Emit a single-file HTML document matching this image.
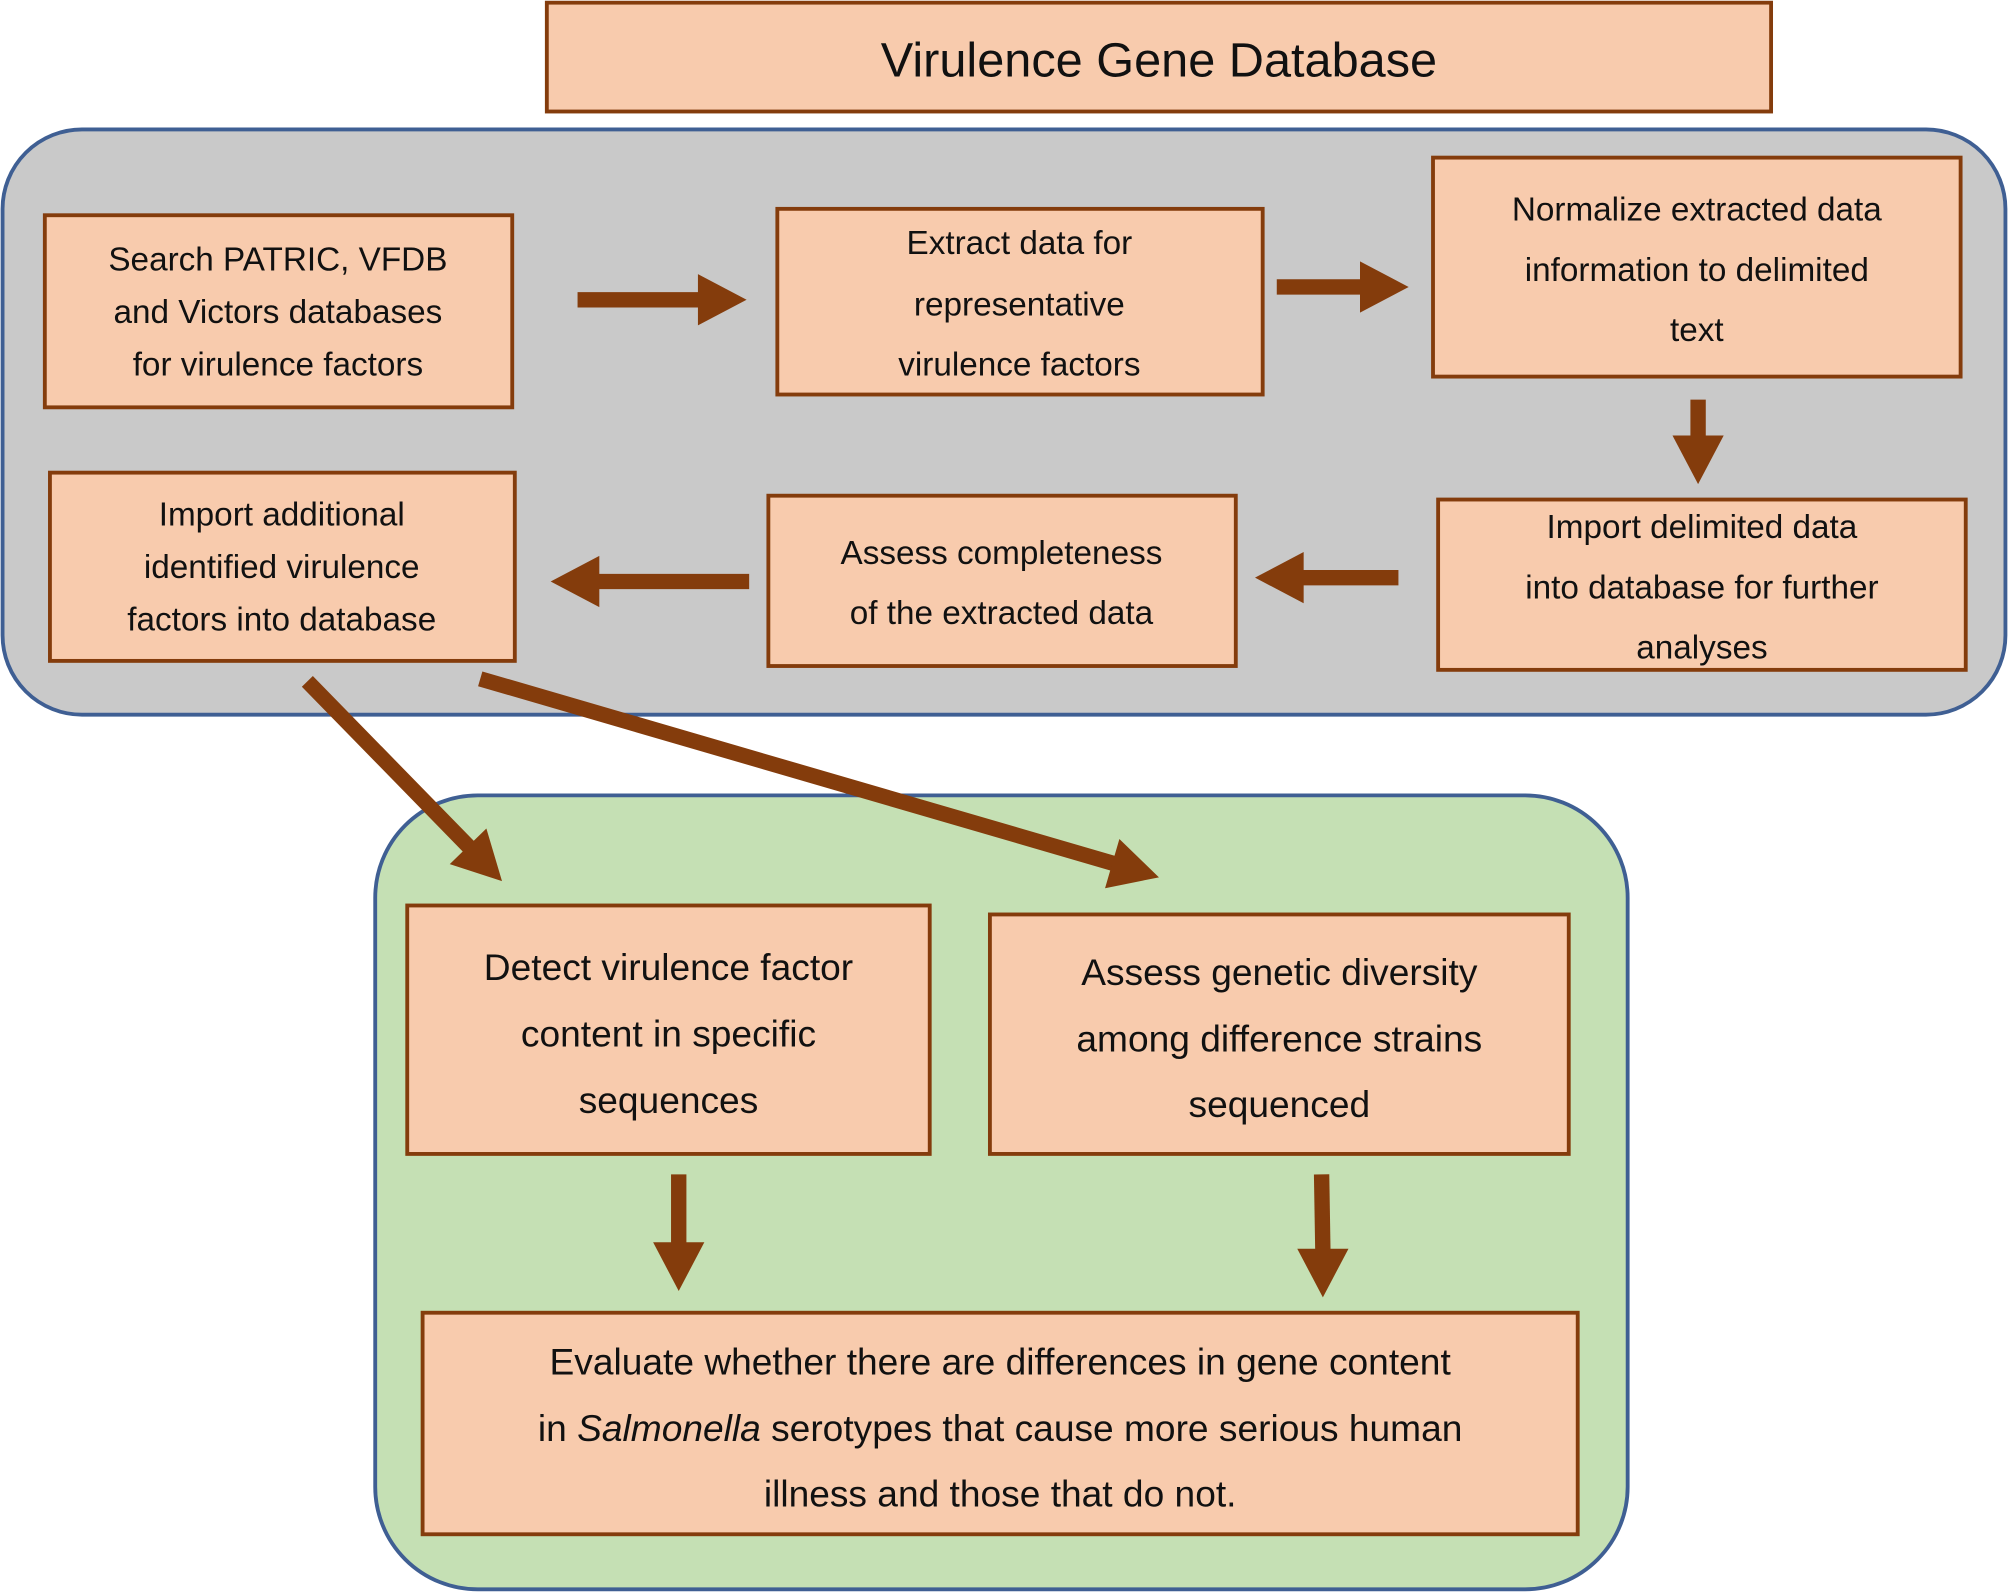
<!DOCTYPE html>
<html><head><meta charset="utf-8"><style>
html,body{margin:0;padding:0;background:#fff;}
svg{display:block;}
text{font-family:"Liberation Sans",sans-serif;fill:#111;text-anchor:middle;dominant-baseline:central;}
.b{fill:#f8cbad;stroke:#843c0c;stroke-width:3;}
.a{stroke:#843c0c;stroke-width:12;fill:none;}
.h{fill:#843c0c;}
.s{font-size:26px;}
.m{font-size:29px;}
</style></head><body>
<svg width="2008" height="1592" viewBox="0 0 1568 1243" xmlns="http://www.w3.org/2000/svg">
<rect x="0" y="0" width="1568" height="1243" fill="#fff"/>
<rect class="b" x="427" y="2" width="956" height="85"/>
<text x="905" y="47" style="font-size:38px">Virulence Gene Database</text>

<rect x="2" y="101" width="1564" height="457" rx="62" fill="#c9c9c9" stroke="#3f5f93" stroke-width="3"/>
<rect x="293" y="621" width="978" height="620" rx="80" fill="#c5e0b4" stroke="#3f5f93" stroke-width="3"/>

<rect class="b" x="35" y="168" width="365" height="150"/>
<text class="s" x="217" y="203">Search PATRIC, VFDB</text>
<text class="s" x="217" y="244">and Victors databases</text>
<text class="s" x="217" y="285">for virulence factors</text>

<rect class="b" x="607" y="163" width="379" height="145"/>
<text class="s" x="796" y="190">Extract data for</text>
<text class="s" x="796" y="238">representative</text>
<text class="s" x="796" y="285">virulence factors</text>

<rect class="b" x="1119" y="123" width="412" height="171"/>
<text class="s" x="1325" y="164">Normalize extracted data</text>
<text class="s" x="1325" y="211">information to delimited</text>
<text class="s" x="1325" y="258">text</text>

<rect class="b" x="1123" y="390" width="412" height="133"/>
<text class="s" x="1329" y="412">Import delimited data</text>
<text class="s" x="1329" y="459">into database for further</text>
<text class="s" x="1329" y="506">analyses</text>

<rect class="b" x="600" y="387" width="365" height="133"/>
<text class="s" x="782" y="432">Assess completeness</text>
<text class="s" x="782" y="479">of the extracted data</text>

<rect class="b" x="39" y="369" width="363" height="147"/>
<text class="s" x="220" y="402">Import additional</text>
<text class="s" x="220" y="443">identified virulence</text>
<text class="s" x="220" y="484">factors into database</text>

<rect class="b" x="318" y="707" width="408" height="194"/>
<text class="m" x="522" y="755">Detect virulence factor</text>
<text class="m" x="522" y="807">content in specific</text>
<text class="m" x="522" y="859">sequences</text>

<rect class="b" x="773" y="714" width="452" height="187"/>
<text class="m" x="999" y="759">Assess genetic diversity</text>
<text class="m" x="999" y="811">among difference strains</text>
<text class="m" x="999" y="862">sequenced</text>

<rect class="b" x="330" y="1025" width="902" height="173"/>
<text class="m" x="781" y="1063">Evaluate whether there are differences in gene content</text>
<text class="m" x="781" y="1115">in <tspan font-style="italic">Salmonella</tspan> serotypes that cause more serious human</text>
<text class="m" x="781" y="1166">illness and those that do not.</text>

<!-- arrows -->
<line class="a" x1="451" y1="234" x2="547" y2="234"/><polygon class="h" points="583,234 545,214 545,254"/>
<line class="a" x1="997" y1="224" x2="1064" y2="224"/><polygon class="h" points="1100,224 1062,204 1062,244"/>
<line class="a" x1="1326" y1="312" x2="1326" y2="342"/><polygon class="h" points="1326,378 1306,340 1346,340"/>
<line class="a" x1="1092" y1="451" x2="1016" y2="451"/><polygon class="h" points="980,451 1018,431 1018,471"/>
<line class="a" x1="585" y1="454" x2="466" y2="454"/><polygon class="h" points="430,454 468,434 468,474"/>
<line class="a" x1="240" y1="532" x2="366" y2="661"/><polygon class="h" points="392,688 351.2,674.7 379.8,646.9"/>
<line class="a" x1="375" y1="530" x2="869" y2="674"/><polygon class="h" points="905,685 862.9,693.5 874.1,655.1"/>
<line class="a" x1="530" y1="917" x2="530" y2="972"/><polygon class="h" points="530,1008 510,970 550,970"/>
<line class="a" x1="1032" y1="917" x2="1033" y2="977"/><polygon class="h" points="1033,1013 1013,975 1053,975"/>
</svg>
</body></html>
